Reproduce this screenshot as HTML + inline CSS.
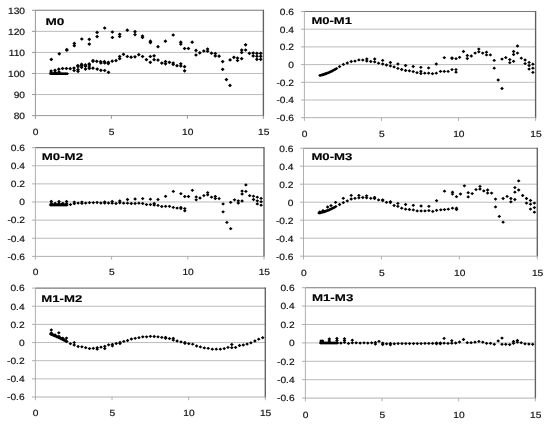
<!DOCTYPE html>
<html><head><meta charset="utf-8"><title>Residual plots</title>
<style>html,body{margin:0;padding:0;background:#fff}svg{display:block}text{text-rendering:geometricPrecision;font-family:"Liberation Sans",sans-serif;fill:#111;stroke:#111;stroke-width:0.18px}.t{font-weight:bold;fill:#000;stroke:#000;stroke-width:0.12px}</style></head><body>
<svg width="550" height="425" viewBox="0 0 550 425">
<rect width="550" height="425" fill="#fff"/>
<g>
<line x1="32.0" y1="10.30" x2="35.4" y2="10.30" stroke="#8c8c8c" stroke-width="0.9"/>
<text transform="translate(25.0 13.95) scale(1.12 1)" font-size="9.1" text-anchor="end">130</text>
<line x1="35.4" y1="31.36" x2="263.4" y2="31.36" stroke="#b4b4b4" stroke-width="0.9"/>
<line x1="32.0" y1="31.36" x2="35.4" y2="31.36" stroke="#8c8c8c" stroke-width="0.9"/>
<text transform="translate(25.0 35.01) scale(1.12 1)" font-size="9.1" text-anchor="end">120</text>
<line x1="35.4" y1="52.42" x2="263.4" y2="52.42" stroke="#b4b4b4" stroke-width="0.9"/>
<line x1="32.0" y1="52.42" x2="35.4" y2="52.42" stroke="#8c8c8c" stroke-width="0.9"/>
<text transform="translate(25.0 56.07) scale(1.12 1)" font-size="9.1" text-anchor="end">110</text>
<line x1="35.4" y1="73.48" x2="263.4" y2="73.48" stroke="#b4b4b4" stroke-width="0.9"/>
<line x1="32.0" y1="73.48" x2="35.4" y2="73.48" stroke="#8c8c8c" stroke-width="0.9"/>
<text transform="translate(25.0 77.13) scale(1.12 1)" font-size="9.1" text-anchor="end">100</text>
<line x1="35.4" y1="94.54" x2="263.4" y2="94.54" stroke="#b4b4b4" stroke-width="0.9"/>
<line x1="32.0" y1="94.54" x2="35.4" y2="94.54" stroke="#8c8c8c" stroke-width="0.9"/>
<text transform="translate(25.0 98.19) scale(1.12 1)" font-size="9.1" text-anchor="end">90</text>
<line x1="32.0" y1="115.60" x2="35.4" y2="115.60" stroke="#8c8c8c" stroke-width="0.9"/>
<text transform="translate(25.0 119.25) scale(1.12 1)" font-size="9.1" text-anchor="end">80</text>
<path d="M35.4 10.30H263.4" fill="none" stroke="#787878" stroke-width="1.1"/>
<path d="M263.4 9.80V116.00" fill="none" stroke="#606060" stroke-width="1.35"/>
<path d="M35.4 10.30V115.60H263.4" fill="none" stroke="#8c8c8c" stroke-width="0.9"/>
<line x1="35.40" y1="115.60" x2="35.40" y2="118.80" stroke="#8c8c8c" stroke-width="0.9"/>
<text transform="translate(35.70 134.85) scale(1.12 1)" font-size="9.1" text-anchor="middle">0</text>
<line x1="111.40" y1="115.60" x2="111.40" y2="118.80" stroke="#8c8c8c" stroke-width="0.9"/>
<text transform="translate(111.70 134.85) scale(1.12 1)" font-size="9.1" text-anchor="middle">5</text>
<line x1="187.40" y1="115.60" x2="187.40" y2="118.80" stroke="#8c8c8c" stroke-width="0.9"/>
<text transform="translate(187.70 134.85) scale(1.12 1)" font-size="9.1" text-anchor="middle">10</text>
<line x1="263.40" y1="115.60" x2="263.40" y2="118.80" stroke="#8c8c8c" stroke-width="0.9"/>
<text transform="translate(263.70 134.85) scale(1.12 1)" font-size="9.1" text-anchor="middle">15</text>
<text class="t" x="45.5" y="25.1" font-size="9.8" textLength="18.9" lengthAdjust="spacingAndGlyphs">M0</text>
<path d="M49.35 59.40L51.30 57.55L53.25 59.40L51.30 61.25ZM57.35 53.80L59.30 51.95L61.25 53.80L59.30 55.65ZM64.85 49.50L66.80 47.65L68.75 49.50L66.80 51.35ZM64.85 50.20L66.80 48.35L68.75 50.20L66.80 52.05ZM72.35 43.40L74.30 41.55L76.25 43.40L74.30 45.25ZM72.35 45.70L74.30 43.85L76.25 45.70L74.30 47.55ZM79.85 39.00L81.80 37.15L83.75 39.00L81.80 40.85ZM87.35 39.30L89.30 37.45L91.25 39.30L89.30 41.15ZM87.35 44.10L89.30 42.25L91.25 44.10L89.30 45.95ZM95.15 32.40L97.10 30.55L99.05 32.40L97.10 34.25ZM95.15 36.60L97.10 34.75L99.05 36.60L97.10 38.45ZM102.75 28.00L104.70 26.15L106.65 28.00L104.70 29.85ZM110.45 32.00L112.40 30.15L114.35 32.00L112.40 33.85ZM110.45 37.50L112.40 35.65L114.35 37.50L112.40 39.35ZM117.75 34.30L119.70 32.45L121.65 34.30L119.70 36.15ZM117.75 36.40L119.70 34.55L121.65 36.40L119.70 38.25ZM125.35 30.20L127.30 28.35L129.25 30.20L127.30 32.05ZM133.05 31.70L135.00 29.85L136.95 31.70L135.00 33.55ZM133.05 34.60L135.00 32.75L136.95 34.60L135.00 36.45ZM140.55 36.10L142.50 34.25L144.45 36.10L142.50 37.95ZM140.55 37.50L142.50 35.65L144.45 37.50L142.50 39.35ZM148.45 41.20L150.40 39.35L152.35 41.20L150.40 43.05ZM148.45 42.60L150.40 40.75L152.35 42.60L150.40 44.45ZM156.05 46.70L158.00 44.85L159.95 46.70L158.00 48.55ZM163.45 41.20L165.40 39.35L167.35 41.20L165.40 43.05ZM171.25 35.00L173.20 33.15L175.15 35.00L173.20 36.85ZM178.85 42.20L180.80 40.35L182.75 42.20L180.80 44.05ZM178.85 44.10L180.80 42.25L182.75 44.10L180.80 45.95ZM182.65 48.50L184.60 46.65L186.55 48.50L184.60 50.35ZM186.45 48.50L188.40 46.65L190.35 48.50L188.40 50.35ZM190.25 42.20L192.20 40.35L194.15 42.20L192.20 44.05ZM194.05 50.40L196.00 48.55L197.95 50.40L196.00 52.25ZM194.05 55.00L196.00 53.15L197.95 55.00L196.00 56.85ZM197.85 52.80L199.80 50.95L201.75 52.80L199.80 54.65ZM201.85 51.00L203.80 49.15L205.75 51.00L203.80 52.85ZM205.65 49.00L207.60 47.15L209.55 49.00L207.60 50.85ZM205.65 51.20L207.60 49.35L209.55 51.20L207.60 53.05ZM209.55 53.20L211.50 51.35L213.45 53.20L211.50 55.05ZM213.35 53.60L215.30 51.75L217.25 53.60L215.30 55.45ZM213.35 55.90L215.30 54.05L217.25 55.90L215.30 57.75ZM217.15 56.20L219.10 54.35L221.05 56.20L219.10 58.05ZM220.75 61.60L222.70 59.75L224.65 61.60L222.70 63.45ZM220.75 69.30L222.70 67.45L224.65 69.30L222.70 71.15ZM224.45 79.60L226.40 77.75L228.35 79.60L226.40 81.45ZM228.05 85.40L230.00 83.55L231.95 85.40L230.00 87.25ZM228.15 59.90L230.10 58.05L232.05 59.90L230.10 61.75ZM231.95 57.30L233.90 55.45L235.85 57.30L233.90 59.15ZM235.55 58.00L237.50 56.15L239.45 58.00L237.50 59.85ZM235.55 60.50L237.50 58.65L239.45 60.50L237.50 62.35ZM239.75 58.70L241.70 56.85L243.65 58.70L241.70 60.55ZM239.75 50.00L241.70 48.15L243.65 50.00L241.70 51.85ZM239.75 52.40L241.70 50.55L243.65 52.40L241.70 54.25ZM243.65 44.80L245.60 42.95L247.55 44.80L245.60 46.65ZM243.65 50.00L245.60 48.15L247.55 50.00L245.60 51.85ZM247.45 53.30L249.40 51.45L251.35 53.30L249.40 55.15ZM251.25 53.10L253.20 51.25L255.15 53.10L253.20 54.95ZM251.25 55.90L253.20 54.05L255.15 55.90L253.20 57.75ZM254.95 53.40L256.90 51.55L258.85 53.40L256.90 55.25ZM254.95 56.30L256.90 54.45L258.85 56.30L256.90 58.15ZM254.95 59.30L256.90 57.45L258.85 59.30L256.90 61.15ZM258.75 53.40L260.70 51.55L262.65 53.40L260.70 55.25ZM258.75 56.30L260.70 54.45L262.65 56.30L260.70 58.15ZM258.75 59.30L260.70 57.45L262.65 59.30L260.70 61.15ZM49.15 71.00L51.10 69.15L53.05 71.00L51.10 72.85ZM53.05 70.30L55.00 68.45L56.95 70.30L55.00 72.15ZM56.85 69.20L58.80 67.35L60.75 69.20L58.80 71.05ZM60.65 68.50L62.60 66.65L64.55 68.50L62.60 70.35ZM64.45 68.50L66.40 66.65L68.35 68.50L66.40 70.35ZM68.25 68.70L70.20 66.85L72.15 68.70L70.20 70.55ZM72.05 68.10L74.00 66.25L75.95 68.10L74.00 69.95ZM75.85 65.50L77.80 63.65L79.75 65.50L77.80 67.35ZM79.65 64.30L81.60 62.45L83.55 64.30L81.60 66.15ZM83.45 64.90L85.40 63.05L87.35 64.90L85.40 66.75ZM87.25 63.90L89.20 62.05L91.15 63.90L89.20 65.75ZM91.05 60.50L93.00 58.65L94.95 60.50L93.00 62.35ZM94.85 61.30L96.80 59.45L98.75 61.30L96.80 63.15ZM98.65 61.70L100.60 59.85L102.55 61.70L100.60 63.55ZM102.45 61.70L104.40 59.85L106.35 61.70L104.40 63.55ZM106.35 62.30L108.30 60.45L110.25 62.30L108.30 64.15ZM106.35 63.60L108.30 61.75L110.25 63.60L108.30 65.45ZM110.25 61.20L112.20 59.35L114.15 61.20L112.20 63.05ZM114.05 60.60L116.00 58.75L117.95 60.60L116.00 62.45ZM117.75 56.50L119.70 54.65L121.65 56.50L119.70 58.35ZM117.75 58.70L119.70 56.85L121.65 58.70L119.70 60.55ZM121.55 54.30L123.50 52.45L125.45 54.30L123.50 56.15ZM125.35 56.50L127.30 54.65L129.25 56.50L127.30 58.35ZM129.15 57.20L131.10 55.35L133.05 57.20L131.10 59.05ZM133.05 56.80L135.00 54.95L136.95 56.80L135.00 58.65ZM136.85 54.70L138.80 52.85L140.75 54.70L138.80 56.55ZM140.65 56.50L142.60 54.65L144.55 56.50L142.60 58.35ZM144.45 59.70L146.40 57.85L148.35 59.70L146.40 61.55ZM148.35 56.50L150.30 54.65L152.25 56.50L150.30 58.35ZM148.35 62.30L150.30 60.45L152.25 62.30L150.30 64.15ZM152.15 55.80L154.10 53.95L156.05 55.80L154.10 57.65ZM152.15 59.70L154.10 57.85L156.05 59.70L154.10 61.55ZM156.05 60.10L158.00 58.25L159.95 60.10L158.00 61.95ZM159.85 63.10L161.80 61.25L163.75 63.10L161.80 64.95ZM163.55 61.60L165.50 59.75L167.45 61.60L165.50 63.45ZM163.55 63.80L165.50 61.95L167.45 63.80L165.50 65.65ZM167.45 62.30L169.40 60.45L171.35 62.30L169.40 64.15ZM171.25 63.10L173.20 61.25L175.15 63.10L173.20 64.95ZM171.25 64.50L173.20 62.65L175.15 64.50L173.20 66.35ZM175.05 65.70L177.00 63.85L178.95 65.70L177.00 67.55ZM178.85 63.80L180.80 61.95L182.75 63.80L180.80 65.65ZM178.85 66.00L180.80 64.15L182.75 66.00L180.80 67.85ZM182.65 66.70L184.60 64.85L186.55 66.70L184.60 68.55ZM182.65 70.80L184.60 68.95L186.55 70.80L184.60 72.65ZM49.25 72.60L51.20 70.75L53.15 72.60L51.20 74.45ZM53.15 72.30L55.10 70.45L57.05 72.30L55.10 74.15ZM57.05 72.00L59.00 70.15L60.95 72.00L59.00 73.85ZM72.15 70.50L74.10 68.65L76.05 70.50L74.10 72.35ZM76.05 69.60L78.00 67.75L79.95 69.60L78.00 71.45ZM76.05 71.30L78.00 69.45L79.95 71.30L78.00 73.15ZM79.65 67.30L81.60 65.45L83.55 67.30L81.60 69.15ZM83.55 69.10L85.50 67.25L87.45 69.10L85.50 70.95ZM87.35 67.00L89.30 65.15L91.25 67.00L89.30 68.85ZM87.35 68.50L89.30 66.65L91.25 68.50L89.30 70.35ZM91.05 68.20L93.00 66.35L94.95 68.20L93.00 70.05ZM95.25 69.10L97.20 67.25L99.15 69.10L97.20 70.95ZM98.95 70.30L100.90 68.45L102.85 70.30L100.90 72.15ZM102.75 70.50L104.70 68.65L106.65 70.50L104.70 72.35ZM106.55 72.30L108.50 70.45L110.45 72.30L108.50 74.15ZM76.05 66.60L78.00 64.75L79.95 66.60L78.00 68.45ZM79.65 65.60L81.60 63.75L83.55 65.60L81.60 67.45ZM83.55 66.20L85.50 64.35L87.45 66.20L85.50 68.05ZM87.35 64.90L89.30 63.05L91.25 64.90L89.30 66.75ZM91.05 61.30L93.00 59.45L94.95 61.30L93.00 63.15ZM98.95 63.00L100.90 61.15L102.85 63.00L100.90 64.85ZM102.75 63.00L104.70 61.15L106.65 63.00L104.70 64.85ZM48.70 73.70L50.40 72.35L52.10 73.70L50.40 75.05ZM49.47 73.70L51.17 72.35L52.87 73.70L51.17 75.05ZM50.25 73.70L51.95 72.35L53.65 73.70L51.95 75.05ZM51.02 73.70L52.72 72.35L54.42 73.70L52.72 75.05ZM51.79 73.70L53.49 72.35L55.19 73.70L53.49 75.05ZM52.56 73.70L54.26 72.35L55.96 73.70L54.26 75.05ZM53.34 73.70L55.04 72.35L56.74 73.70L55.04 75.05ZM54.11 73.70L55.81 72.35L57.51 73.70L55.81 75.05ZM54.88 73.70L56.58 72.35L58.28 73.70L56.58 75.05ZM55.65 73.70L57.35 72.35L59.05 73.70L57.35 75.05ZM56.43 73.70L58.13 72.35L59.83 73.70L58.13 75.05ZM57.20 73.70L58.90 72.35L60.60 73.70L58.90 75.05ZM57.97 73.70L59.67 72.35L61.37 73.70L59.67 75.05ZM58.75 73.70L60.45 72.35L62.15 73.70L60.45 75.05ZM59.52 73.70L61.22 72.35L62.92 73.70L61.22 75.05ZM60.29 73.70L61.99 72.35L63.69 73.70L61.99 75.05ZM61.06 73.70L62.76 72.35L64.46 73.70L62.76 75.05ZM61.84 73.70L63.54 72.35L65.24 73.70L63.54 75.05ZM62.61 73.70L64.31 72.35L66.01 73.70L64.31 75.05ZM63.38 73.70L65.08 72.35L66.78 73.70L65.08 75.05ZM64.15 73.70L65.85 72.35L67.55 73.70L65.85 75.05ZM64.93 73.70L66.63 72.35L68.33 73.70L66.63 75.05ZM65.70 73.70L67.40 72.35L69.10 73.70L67.40 75.05Z" fill="#000"/>
</g>
<g>
<line x1="301.0" y1="11.50" x2="304.4" y2="11.50" stroke="#a6a6a6" stroke-width="0.9"/>
<text transform="translate(294.0 14.80) scale(1.12 1)" font-size="9.1" text-anchor="end">0.6</text>
<line x1="304.4" y1="29.20" x2="535.6" y2="29.20" stroke="#b4b4b4" stroke-width="0.9"/>
<line x1="301.0" y1="29.20" x2="304.4" y2="29.20" stroke="#a6a6a6" stroke-width="0.9"/>
<text transform="translate(294.0 32.50) scale(1.12 1)" font-size="9.1" text-anchor="end">0.4</text>
<line x1="304.4" y1="46.90" x2="535.6" y2="46.90" stroke="#b4b4b4" stroke-width="0.9"/>
<line x1="301.0" y1="46.90" x2="304.4" y2="46.90" stroke="#a6a6a6" stroke-width="0.9"/>
<text transform="translate(294.0 50.20) scale(1.12 1)" font-size="9.1" text-anchor="end">0.2</text>
<line x1="304.4" y1="64.60" x2="535.6" y2="64.60" stroke="#b4b4b4" stroke-width="0.9"/>
<line x1="301.0" y1="64.60" x2="304.4" y2="64.60" stroke="#a6a6a6" stroke-width="0.9"/>
<text transform="translate(294.0 67.90) scale(1.12 1)" font-size="9.1" text-anchor="end">0</text>
<line x1="304.4" y1="82.30" x2="535.6" y2="82.30" stroke="#b4b4b4" stroke-width="0.9"/>
<line x1="301.0" y1="82.30" x2="304.4" y2="82.30" stroke="#a6a6a6" stroke-width="0.9"/>
<text transform="translate(294.0 85.60) scale(1.12 1)" font-size="9.1" text-anchor="end">-0.2</text>
<line x1="304.4" y1="100.00" x2="535.6" y2="100.00" stroke="#b4b4b4" stroke-width="0.9"/>
<line x1="301.0" y1="100.00" x2="304.4" y2="100.00" stroke="#a6a6a6" stroke-width="0.9"/>
<text transform="translate(294.0 103.30) scale(1.12 1)" font-size="9.1" text-anchor="end">-0.4</text>
<line x1="301.0" y1="117.70" x2="304.4" y2="117.70" stroke="#a6a6a6" stroke-width="0.9"/>
<text transform="translate(294.0 121.00) scale(1.12 1)" font-size="9.1" text-anchor="end">-0.6</text>
<path d="M304.4 11.50H535.6" fill="none" stroke="#787878" stroke-width="1.1"/>
<path d="M535.6 11.00V118.10" fill="none" stroke="#606060" stroke-width="1.35"/>
<path d="M304.4 11.50V117.70H535.6" fill="none" stroke="#a6a6a6" stroke-width="0.9"/>
<line x1="304.40" y1="117.70" x2="304.40" y2="120.90" stroke="#a6a6a6" stroke-width="0.9"/>
<text transform="translate(304.70 136.95) scale(1.12 1)" font-size="9.1" text-anchor="middle">0</text>
<line x1="381.47" y1="117.70" x2="381.47" y2="120.90" stroke="#a6a6a6" stroke-width="0.9"/>
<text transform="translate(381.77 136.95) scale(1.12 1)" font-size="9.1" text-anchor="middle">5</text>
<line x1="458.53" y1="117.70" x2="458.53" y2="120.90" stroke="#a6a6a6" stroke-width="0.9"/>
<text transform="translate(458.83 136.95) scale(1.12 1)" font-size="9.1" text-anchor="middle">10</text>
<line x1="535.60" y1="117.70" x2="535.60" y2="120.90" stroke="#a6a6a6" stroke-width="0.9"/>
<text transform="translate(535.90 136.95) scale(1.12 1)" font-size="9.1" text-anchor="middle">15</text>
<text class="t" x="311.4" y="24.4" font-size="9.8" textLength="40.6" lengthAdjust="spacingAndGlyphs">M0-M1</text>
<path d="M337.75 66.60L339.60 64.95L341.45 66.60L339.60 68.25ZM341.55 64.40L343.40 62.75L345.25 64.40L343.40 66.05ZM345.45 63.00L347.30 61.35L349.15 63.00L347.30 64.65ZM349.35 61.50L351.20 59.85L353.05 61.50L351.20 63.15ZM353.15 61.10L355.00 59.45L356.85 61.10L355.00 62.75ZM357.05 59.90L358.90 58.25L360.75 59.90L358.90 61.55ZM360.95 60.10L362.80 58.45L364.65 60.10L362.80 61.75ZM364.95 58.90L366.80 57.25L368.65 58.90L366.80 60.55ZM364.95 61.10L366.80 59.45L368.65 61.10L366.80 62.75ZM368.95 61.50L370.80 59.85L372.65 61.50L370.80 63.15ZM372.85 59.00L374.70 57.35L376.55 59.00L374.70 60.65ZM372.85 61.90L374.70 60.25L376.55 61.90L374.70 63.55ZM376.75 63.20L378.60 61.55L380.45 63.20L378.60 64.85ZM380.85 64.00L382.70 62.35L384.55 64.00L382.70 65.65ZM384.65 65.00L386.50 63.35L388.35 65.00L386.50 66.65ZM388.55 65.90L390.40 64.25L392.25 65.90L390.40 67.55ZM392.25 66.90L394.10 65.25L395.95 66.90L394.10 68.55ZM396.05 68.40L397.90 66.75L399.75 68.40L397.90 70.05ZM399.85 69.50L401.70 67.85L403.55 69.50L401.70 71.15ZM403.75 70.50L405.60 68.85L407.45 70.50L405.60 72.15ZM407.55 70.80L409.40 69.15L411.25 70.80L409.40 72.45ZM411.35 71.60L413.20 69.95L415.05 71.60L413.20 73.25ZM415.15 72.70L417.00 71.05L418.85 72.70L417.00 74.35ZM419.05 73.50L420.90 71.85L422.75 73.50L420.90 75.15ZM422.95 73.20L424.80 71.55L426.65 73.20L424.80 74.85ZM426.75 73.20L428.60 71.55L430.45 73.20L428.60 74.85ZM430.65 73.70L432.50 72.05L434.35 73.70L432.50 75.35ZM434.45 73.20L436.30 71.55L438.15 73.20L436.30 74.85ZM438.65 71.40L440.50 69.75L442.35 71.40L440.50 73.05ZM442.45 71.40L444.30 69.75L446.15 71.40L444.30 73.05ZM446.25 71.40L448.10 69.75L449.95 71.40L448.10 73.05ZM450.15 69.60L452.00 67.95L453.85 69.60L452.00 71.25ZM454.15 69.60L456.00 67.95L457.85 69.60L456.00 71.25ZM454.15 72.20L456.00 70.55L457.85 72.20L456.00 73.85ZM380.85 60.40L382.70 58.75L384.55 60.40L382.70 62.05ZM388.55 62.50L390.40 60.85L392.25 62.50L390.40 64.15ZM396.05 64.00L397.90 62.35L399.75 64.00L397.90 65.65ZM403.75 65.50L405.60 63.85L407.45 65.50L405.60 67.15ZM411.35 66.50L413.20 64.85L415.05 66.50L413.20 68.15ZM419.05 67.30L420.90 65.65L422.75 67.30L420.90 68.95ZM419.05 71.30L420.90 69.65L422.75 71.30L420.90 72.95ZM426.75 67.90L428.60 66.25L430.45 67.90L428.60 69.55ZM434.45 64.00L436.30 62.35L438.15 64.00L436.30 65.65ZM442.45 57.70L444.30 56.05L446.15 57.70L444.30 59.35ZM450.15 57.80L452.00 56.15L453.85 57.80L452.00 59.45ZM450.15 58.60L452.00 56.95L453.85 58.60L452.00 60.25ZM454.15 58.70L456.00 57.05L457.85 58.70L456.00 60.35ZM457.75 57.30L459.60 55.65L461.45 57.30L459.60 58.95ZM461.65 51.50L463.50 49.85L465.35 51.50L463.50 53.15ZM465.45 55.50L467.30 53.85L469.15 55.50L467.30 57.15ZM465.45 58.50L467.30 56.85L469.15 58.50L467.30 60.15ZM469.45 56.00L471.30 54.35L473.15 56.00L471.30 57.65ZM473.25 53.10L475.10 51.45L476.95 53.10L475.10 54.75ZM476.95 49.10L478.80 47.45L480.65 49.10L478.80 50.75ZM476.95 51.80L478.80 50.15L480.65 51.80L478.80 53.45ZM480.85 53.10L482.70 51.45L484.55 53.10L482.70 54.75ZM484.65 52.20L486.50 50.55L488.35 52.20L486.50 53.85ZM484.65 54.90L486.50 53.25L488.35 54.90L486.50 56.55ZM488.55 54.90L490.40 53.25L492.25 54.90L490.40 56.55ZM492.35 60.40L494.20 58.75L496.05 60.40L494.20 62.05ZM492.35 68.20L494.20 66.55L496.05 68.20L494.20 69.85ZM496.35 80.00L498.20 78.35L500.05 80.00L498.20 81.65ZM500.15 88.50L502.00 86.85L503.85 88.50L502.00 90.15ZM500.15 59.10L502.00 57.45L503.85 59.10L502.00 60.75ZM503.95 57.60L505.80 55.95L507.65 57.60L505.80 59.25ZM507.95 59.60L509.80 57.95L511.65 59.60L509.80 61.25ZM507.95 62.70L509.80 61.05L511.65 62.70L509.80 64.35ZM511.75 51.50L513.60 49.85L515.45 51.50L513.60 53.15ZM511.75 54.50L513.60 52.85L515.45 54.50L513.60 56.15ZM511.75 61.30L513.60 59.65L515.45 61.30L513.60 62.95ZM515.65 46.00L517.50 44.35L519.35 46.00L517.50 47.65ZM515.65 53.10L517.50 51.45L519.35 53.10L517.50 54.75ZM519.45 58.20L521.30 56.55L523.15 58.20L521.30 59.85ZM523.25 60.00L525.10 58.35L526.95 60.00L525.10 61.65ZM523.25 63.60L525.10 61.95L526.95 63.60L525.10 65.25ZM527.25 62.40L529.10 60.75L530.95 62.40L529.10 64.05ZM527.25 65.50L529.10 63.85L530.95 65.50L529.10 67.15ZM527.25 69.10L529.10 67.45L530.95 69.10L529.10 70.75ZM531.05 64.20L532.90 62.55L534.75 64.20L532.90 65.85ZM531.05 68.20L532.90 66.55L534.75 68.20L532.90 69.85ZM531.05 72.40L532.90 70.75L534.75 72.40L532.90 74.05ZM318.15 75.40L319.90 73.85L321.65 75.40L319.90 76.95ZM318.91 75.23L320.66 73.68L322.41 75.23L320.66 76.78ZM319.67 75.04L321.42 73.49L323.17 75.04L321.42 76.59ZM320.43 74.84L322.18 73.29L323.93 74.84L322.18 76.39ZM321.19 74.62L322.94 73.07L324.69 74.62L322.94 76.17ZM321.95 74.39L323.70 72.84L325.45 74.39L323.70 75.94ZM322.70 74.15L324.45 72.60L326.20 74.15L324.45 75.70ZM323.46 73.90L325.21 72.35L326.96 73.90L325.21 75.45ZM324.22 73.63L325.97 72.08L327.72 73.63L325.97 75.18ZM324.98 73.35L326.73 71.80L328.48 73.35L326.73 74.90ZM325.74 73.06L327.49 71.51L329.24 73.06L327.49 74.61ZM326.50 72.75L328.25 71.20L330.00 72.75L328.25 74.30ZM327.26 72.43L329.01 70.88L330.76 72.43L329.01 73.98ZM328.02 72.10L329.77 70.55L331.52 72.10L329.77 73.65ZM328.78 71.75L330.53 70.20L332.28 71.75L330.53 73.30ZM329.54 71.39L331.29 69.84L333.04 71.39L331.29 72.94ZM330.30 71.02L332.05 69.47L333.80 71.02L332.05 72.57ZM331.05 70.63L332.80 69.08L334.55 70.63L332.80 72.18ZM331.81 70.23L333.56 68.68L335.31 70.23L333.56 71.78ZM332.57 69.82L334.32 68.27L336.07 69.82L334.32 71.37ZM333.33 69.39L335.08 67.84L336.83 69.39L335.08 70.94ZM334.09 68.95L335.84 67.40L337.59 68.95L335.84 70.50ZM334.85 68.50L336.60 66.95L338.35 68.50L336.60 70.05Z" fill="#000"/>
</g>
<g>
<line x1="32.0" y1="147.60" x2="35.4" y2="147.60" stroke="#a6a6a6" stroke-width="0.9"/>
<text transform="translate(25.0 150.90) scale(1.12 1)" font-size="9.1" text-anchor="end">0.6</text>
<line x1="35.4" y1="165.73" x2="264.0" y2="165.73" stroke="#b4b4b4" stroke-width="0.9"/>
<line x1="32.0" y1="165.73" x2="35.4" y2="165.73" stroke="#a6a6a6" stroke-width="0.9"/>
<text transform="translate(25.0 169.03) scale(1.12 1)" font-size="9.1" text-anchor="end">0.4</text>
<line x1="35.4" y1="183.87" x2="264.0" y2="183.87" stroke="#b4b4b4" stroke-width="0.9"/>
<line x1="32.0" y1="183.87" x2="35.4" y2="183.87" stroke="#a6a6a6" stroke-width="0.9"/>
<text transform="translate(25.0 187.17) scale(1.12 1)" font-size="9.1" text-anchor="end">0.2</text>
<line x1="35.4" y1="202.00" x2="264.0" y2="202.00" stroke="#b4b4b4" stroke-width="0.9"/>
<line x1="32.0" y1="202.00" x2="35.4" y2="202.00" stroke="#a6a6a6" stroke-width="0.9"/>
<text transform="translate(25.0 205.30) scale(1.12 1)" font-size="9.1" text-anchor="end">0</text>
<line x1="35.4" y1="220.13" x2="264.0" y2="220.13" stroke="#b4b4b4" stroke-width="0.9"/>
<line x1="32.0" y1="220.13" x2="35.4" y2="220.13" stroke="#a6a6a6" stroke-width="0.9"/>
<text transform="translate(25.0 223.43) scale(1.12 1)" font-size="9.1" text-anchor="end">-0.2</text>
<line x1="35.4" y1="238.27" x2="264.0" y2="238.27" stroke="#b4b4b4" stroke-width="0.9"/>
<line x1="32.0" y1="238.27" x2="35.4" y2="238.27" stroke="#a6a6a6" stroke-width="0.9"/>
<text transform="translate(25.0 241.57) scale(1.12 1)" font-size="9.1" text-anchor="end">-0.4</text>
<line x1="32.0" y1="256.40" x2="35.4" y2="256.40" stroke="#a6a6a6" stroke-width="0.9"/>
<text transform="translate(25.0 259.70) scale(1.12 1)" font-size="9.1" text-anchor="end">-0.6</text>
<path d="M35.4 147.60H264.0" fill="none" stroke="#787878" stroke-width="1.1"/>
<path d="M264.0 147.10V256.80" fill="none" stroke="#606060" stroke-width="1.35"/>
<path d="M35.4 147.60V256.40H264.0" fill="none" stroke="#a6a6a6" stroke-width="0.9"/>
<line x1="35.40" y1="256.40" x2="35.40" y2="259.60" stroke="#a6a6a6" stroke-width="0.9"/>
<text transform="translate(35.70 275.45) scale(1.12 1)" font-size="9.1" text-anchor="middle">0</text>
<line x1="111.60" y1="256.40" x2="111.60" y2="259.60" stroke="#a6a6a6" stroke-width="0.9"/>
<text transform="translate(111.90 275.45) scale(1.12 1)" font-size="9.1" text-anchor="middle">5</text>
<line x1="187.80" y1="256.40" x2="187.80" y2="259.60" stroke="#a6a6a6" stroke-width="0.9"/>
<text transform="translate(188.10 275.45) scale(1.12 1)" font-size="9.1" text-anchor="middle">10</text>
<line x1="264.00" y1="256.40" x2="264.00" y2="259.60" stroke="#a6a6a6" stroke-width="0.9"/>
<text transform="translate(264.30 275.45) scale(1.12 1)" font-size="9.1" text-anchor="middle">15</text>
<text class="t" x="41.8" y="160.3" font-size="9.8" textLength="41.2" lengthAdjust="spacingAndGlyphs">M0-M2</text>
<path d="M49.45 201.30L51.30 199.65L53.15 201.30L51.30 202.95ZM57.15 201.40L59.00 199.75L60.85 201.40L59.00 203.05ZM64.75 201.40L66.60 199.75L68.45 201.40L66.60 203.05ZM49.45 203.20L51.30 201.55L53.15 203.20L51.30 204.85ZM53.25 203.30L55.10 201.65L56.95 203.30L55.10 204.95ZM57.15 203.30L59.00 201.65L60.85 203.30L59.00 204.95ZM60.95 203.30L62.80 201.65L64.65 203.30L62.80 204.95ZM64.75 203.40L66.60 201.75L68.45 203.40L66.60 205.05ZM68.65 204.60L70.50 202.95L72.35 204.60L70.50 206.25ZM72.45 202.10L74.30 200.45L76.15 202.10L74.30 203.75ZM72.45 203.70L74.30 202.05L76.15 203.70L74.30 205.35ZM76.25 203.10L78.10 201.45L79.95 203.10L78.10 204.75ZM80.05 202.10L81.90 200.45L83.75 202.10L81.90 203.75ZM80.05 203.40L81.90 201.75L83.75 203.40L81.90 205.05ZM83.85 203.10L85.70 201.45L87.55 203.10L85.70 204.75ZM87.65 202.70L89.50 201.05L91.35 202.70L89.50 204.35ZM91.45 202.70L93.30 201.05L95.15 202.70L93.30 204.35ZM95.25 202.50L97.10 200.85L98.95 202.50L97.10 204.15ZM99.05 203.00L100.90 201.35L102.75 203.00L100.90 204.65ZM102.85 202.00L104.70 200.35L106.55 202.00L104.70 203.65ZM102.85 203.10L104.70 201.45L106.55 203.10L104.70 204.75ZM106.65 203.00L108.50 201.35L110.35 203.00L108.50 204.65ZM110.35 201.40L112.20 199.75L114.05 201.40L112.20 203.05ZM117.95 201.00L119.80 199.35L121.65 201.00L119.80 202.65ZM125.65 199.50L127.50 197.85L129.35 199.50L127.50 201.15ZM133.25 199.00L135.10 197.35L136.95 199.00L135.10 200.65ZM140.85 198.60L142.70 196.95L144.55 198.60L142.70 200.25ZM148.55 199.20L150.40 197.55L152.25 199.20L150.40 200.85ZM156.15 199.50L158.00 197.85L159.85 199.50L158.00 201.15ZM163.75 196.30L165.60 194.65L167.45 196.30L165.60 197.95ZM171.45 191.40L173.30 189.75L175.15 191.40L173.30 193.05ZM179.05 193.70L180.90 192.05L182.75 193.70L180.90 195.35ZM182.95 196.50L184.80 194.85L186.65 196.50L184.80 198.15ZM186.65 196.50L188.50 194.85L190.35 196.50L188.50 198.15ZM190.55 190.30L192.40 188.65L194.25 190.30L192.40 191.95ZM194.35 196.90L196.20 195.25L198.05 196.90L196.20 198.55ZM194.35 199.80L196.20 198.15L198.05 199.80L196.20 201.45ZM198.15 198.00L200.00 196.35L201.85 198.00L200.00 199.65ZM202.05 195.60L203.90 193.95L205.75 195.60L203.90 197.25ZM205.85 192.70L207.70 191.05L209.55 192.70L207.70 194.35ZM205.85 194.80L207.70 193.15L209.55 194.80L207.70 196.45ZM110.35 203.20L112.20 201.55L114.05 203.20L112.20 204.85ZM114.15 203.50L116.00 201.85L117.85 203.50L116.00 205.15ZM117.95 202.80L119.80 201.15L121.65 202.80L119.80 204.45ZM121.75 203.20L123.60 201.55L125.45 203.20L123.60 204.85ZM125.65 203.20L127.50 201.55L129.35 203.20L127.50 204.85ZM129.45 203.50L131.30 201.85L133.15 203.50L131.30 205.15ZM133.25 203.50L135.10 201.85L136.95 203.50L135.10 205.15ZM137.05 203.20L138.90 201.55L140.75 203.20L138.90 204.85ZM140.85 203.50L142.70 201.85L144.55 203.50L142.70 205.15ZM144.65 204.60L146.50 202.95L148.35 204.60L146.50 206.25ZM148.55 204.60L150.40 202.95L152.25 204.60L150.40 206.25ZM152.35 203.50L154.20 201.85L156.05 203.50L154.20 205.15ZM152.35 205.00L154.20 203.35L156.05 205.00L154.20 206.65ZM156.15 205.40L158.00 203.75L159.85 205.40L158.00 207.05ZM159.95 206.50L161.80 204.85L163.65 206.50L161.80 208.15ZM163.75 206.30L165.60 204.65L167.45 206.30L165.60 207.95ZM167.65 206.30L169.50 204.65L171.35 206.30L169.50 207.95ZM171.45 207.40L173.30 205.75L175.15 207.40L173.30 209.05ZM175.25 208.10L177.10 206.45L178.95 208.10L177.10 209.75ZM179.05 207.40L180.90 205.75L182.75 207.40L180.90 209.05ZM179.05 208.60L180.90 206.95L182.75 208.60L180.90 210.25ZM182.95 208.60L184.80 206.95L186.65 208.60L184.80 210.25ZM182.95 210.80L184.80 209.15L186.65 210.80L184.80 212.45ZM209.65 197.20L211.50 195.55L213.35 197.20L211.50 198.85ZM213.45 196.50L215.30 194.85L217.15 196.50L215.30 198.15ZM213.45 198.60L215.30 196.95L217.15 198.60L215.30 200.25ZM217.25 198.60L219.10 196.95L220.95 198.60L219.10 200.25ZM221.25 203.90L223.10 202.25L224.95 203.90L223.10 205.55ZM221.25 211.80L223.10 210.15L224.95 211.80L223.10 213.45ZM225.05 222.40L226.90 220.75L228.75 222.40L226.90 224.05ZM228.85 228.70L230.70 227.05L232.55 228.70L230.70 230.35ZM228.85 202.30L230.70 200.65L232.55 202.30L230.70 203.95ZM232.65 199.80L234.50 198.15L236.35 199.80L234.50 201.45ZM236.45 200.80L238.30 199.15L240.15 200.80L238.30 202.45ZM236.45 203.00L238.30 201.35L240.15 203.00L238.30 204.65ZM240.25 201.00L242.10 199.35L243.95 201.00L242.10 202.65ZM240.25 191.10L242.10 189.45L243.95 191.10L242.10 192.75ZM240.25 194.00L242.10 192.35L243.95 194.00L242.10 195.65ZM244.05 184.90L245.90 183.25L247.75 184.90L245.90 186.55ZM244.05 191.40L245.90 189.75L247.75 191.40L245.90 193.05ZM247.85 195.70L249.70 194.05L251.55 195.70L249.70 197.35ZM251.65 196.20L253.50 194.55L255.35 196.20L253.50 197.85ZM251.65 199.50L253.50 197.85L255.35 199.50L253.50 201.15ZM255.45 197.20L257.30 195.55L259.15 197.20L257.30 198.85ZM255.45 200.80L257.30 199.15L259.15 200.80L257.30 202.45ZM255.45 203.90L257.30 202.25L259.15 203.90L257.30 205.55ZM259.25 198.40L261.10 196.75L262.95 198.40L261.10 200.05ZM259.25 201.70L261.10 200.05L262.95 201.70L261.10 203.35ZM259.25 205.20L261.10 203.55L262.95 205.20L261.10 206.85ZM48.70 205.00L50.40 203.60L52.10 205.00L50.40 206.40ZM49.45 205.00L51.15 203.60L52.85 205.00L51.15 206.40ZM50.21 205.00L51.91 203.60L53.61 205.00L51.91 206.40ZM50.96 205.00L52.66 203.60L54.36 205.00L52.66 206.40ZM51.72 205.00L53.42 203.60L55.12 205.00L53.42 206.40ZM52.47 205.00L54.17 203.60L55.87 205.00L54.17 206.40ZM53.23 205.00L54.93 203.60L56.63 205.00L54.93 206.40ZM53.98 205.00L55.68 203.60L57.38 205.00L55.68 206.40ZM54.74 205.00L56.44 203.60L58.14 205.00L56.44 206.40ZM55.49 205.00L57.19 203.60L58.89 205.00L57.19 206.40ZM56.25 205.00L57.95 203.60L59.65 205.00L57.95 206.40ZM57.00 205.00L58.70 203.60L60.40 205.00L58.70 206.40ZM57.75 205.00L59.45 203.60L61.15 205.00L59.45 206.40ZM58.51 205.00L60.21 203.60L61.91 205.00L60.21 206.40ZM59.26 205.00L60.96 203.60L62.66 205.00L60.96 206.40ZM60.02 205.00L61.72 203.60L63.42 205.00L61.72 206.40ZM60.77 205.00L62.47 203.60L64.17 205.00L62.47 206.40ZM61.53 205.00L63.23 203.60L64.93 205.00L63.23 206.40ZM62.28 205.00L63.98 203.60L65.68 205.00L63.98 206.40ZM63.04 205.00L64.74 203.60L66.44 205.00L64.74 206.40ZM63.79 205.00L65.49 203.60L67.19 205.00L65.49 206.40ZM64.55 205.00L66.25 203.60L67.95 205.00L66.25 206.40ZM65.30 205.00L67.00 203.60L68.70 205.00L67.00 206.40Z" fill="#000"/>
</g>
<g>
<line x1="300.1" y1="148.20" x2="303.5" y2="148.20" stroke="#a6a6a6" stroke-width="0.9"/>
<text transform="translate(293.5 151.75) scale(1.12 1)" font-size="9.1" text-anchor="end">0.6</text>
<line x1="303.5" y1="166.20" x2="537.3" y2="166.20" stroke="#b4b4b4" stroke-width="0.9"/>
<line x1="300.1" y1="166.20" x2="303.5" y2="166.20" stroke="#a6a6a6" stroke-width="0.9"/>
<text transform="translate(293.5 169.75) scale(1.12 1)" font-size="9.1" text-anchor="end">0.4</text>
<line x1="303.5" y1="184.20" x2="537.3" y2="184.20" stroke="#b4b4b4" stroke-width="0.9"/>
<line x1="300.1" y1="184.20" x2="303.5" y2="184.20" stroke="#a6a6a6" stroke-width="0.9"/>
<text transform="translate(293.5 187.75) scale(1.12 1)" font-size="9.1" text-anchor="end">0.2</text>
<line x1="303.5" y1="202.20" x2="537.3" y2="202.20" stroke="#b4b4b4" stroke-width="0.9"/>
<line x1="300.1" y1="202.20" x2="303.5" y2="202.20" stroke="#a6a6a6" stroke-width="0.9"/>
<text transform="translate(293.5 205.75) scale(1.12 1)" font-size="9.1" text-anchor="end">0</text>
<line x1="303.5" y1="220.20" x2="537.3" y2="220.20" stroke="#b4b4b4" stroke-width="0.9"/>
<line x1="300.1" y1="220.20" x2="303.5" y2="220.20" stroke="#a6a6a6" stroke-width="0.9"/>
<text transform="translate(293.5 223.75) scale(1.12 1)" font-size="9.1" text-anchor="end">-0.2</text>
<line x1="303.5" y1="238.20" x2="537.3" y2="238.20" stroke="#b4b4b4" stroke-width="0.9"/>
<line x1="300.1" y1="238.20" x2="303.5" y2="238.20" stroke="#a6a6a6" stroke-width="0.9"/>
<text transform="translate(293.5 241.75) scale(1.12 1)" font-size="9.1" text-anchor="end">-0.4</text>
<line x1="300.1" y1="256.20" x2="303.5" y2="256.20" stroke="#a6a6a6" stroke-width="0.9"/>
<text transform="translate(293.5 259.75) scale(1.12 1)" font-size="9.1" text-anchor="end">-0.6</text>
<path d="M303.5 148.20H537.3" fill="none" stroke="#787878" stroke-width="1.1"/>
<path d="M537.3 147.70V256.60" fill="none" stroke="#606060" stroke-width="1.35"/>
<path d="M303.5 148.20V256.20H537.3" fill="none" stroke="#a6a6a6" stroke-width="0.9"/>
<line x1="303.50" y1="256.20" x2="303.50" y2="259.40" stroke="#a6a6a6" stroke-width="0.9"/>
<text transform="translate(303.80 275.65) scale(1.12 1)" font-size="9.1" text-anchor="middle" stroke-width="0.4">0</text>
<line x1="381.43" y1="256.20" x2="381.43" y2="259.40" stroke="#a6a6a6" stroke-width="0.9"/>
<text transform="translate(381.73 275.65) scale(1.12 1)" font-size="9.1" text-anchor="middle" stroke-width="0.4">5</text>
<line x1="459.37" y1="256.20" x2="459.37" y2="259.40" stroke="#a6a6a6" stroke-width="0.9"/>
<text transform="translate(459.67 275.65) scale(1.12 1)" font-size="9.1" text-anchor="middle" stroke-width="0.4">10</text>
<line x1="537.30" y1="256.20" x2="537.30" y2="259.40" stroke="#a6a6a6" stroke-width="0.9"/>
<text transform="translate(537.60 275.65) scale(1.12 1)" font-size="9.1" text-anchor="middle" stroke-width="0.4">15</text>
<text class="t" x="311.4" y="160.2" font-size="9.8" textLength="41.0" lengthAdjust="spacingAndGlyphs">M0-M3</text>
<path d="M321.15 210.60L323.00 208.95L324.85 210.60L323.00 212.25ZM329.15 205.60L331.00 203.95L332.85 205.60L331.00 207.25ZM317.95 212.00L319.80 210.35L321.65 212.00L319.80 213.65ZM325.75 207.00L327.60 205.35L329.45 207.00L327.60 208.65ZM333.75 202.30L335.60 200.65L337.45 202.30L335.60 203.95ZM341.45 198.30L343.30 196.65L345.15 198.30L343.30 199.95ZM349.35 195.40L351.20 193.75L353.05 195.40L351.20 197.05ZM357.05 195.40L358.90 193.75L360.75 195.40L358.90 197.05ZM364.75 195.80L366.60 194.15L368.45 195.80L366.60 197.45ZM372.75 197.30L374.60 195.65L376.45 197.30L374.60 198.95ZM337.75 204.50L339.60 202.85L341.45 204.50L339.60 206.15ZM341.45 202.60L343.30 200.95L345.15 202.60L343.30 204.25ZM345.45 200.90L347.30 199.25L349.15 200.90L347.30 202.55ZM349.35 199.00L351.20 197.35L353.05 199.00L351.20 200.65ZM353.15 198.30L355.00 196.65L356.85 198.30L355.00 199.95ZM357.05 197.80L358.90 196.15L360.75 197.80L358.90 199.45ZM360.95 197.50L362.80 195.85L364.65 197.50L362.80 199.15ZM364.75 197.80L366.60 196.15L368.45 197.80L366.60 199.45ZM368.95 198.30L370.80 196.65L372.65 198.30L370.80 199.95ZM372.75 198.60L374.60 196.95L376.45 198.60L374.60 200.25ZM376.75 199.90L378.60 198.25L380.45 199.90L378.60 201.55ZM380.85 200.70L382.70 199.05L384.55 200.70L382.70 202.35ZM384.65 202.30L386.50 200.65L388.35 202.30L386.50 203.95ZM388.55 202.60L390.40 200.95L392.25 202.60L390.40 204.25ZM392.25 205.50L394.10 203.85L395.95 205.50L394.10 207.15ZM396.05 206.30L397.90 204.65L399.75 206.30L397.90 207.95ZM399.85 208.20L401.70 206.55L403.55 208.20L401.70 209.85ZM403.75 209.20L405.60 207.55L407.45 209.20L405.60 210.85ZM407.55 209.50L409.40 207.85L411.25 209.50L409.40 211.15ZM411.45 209.90L413.30 208.25L415.15 209.90L413.30 211.55ZM415.35 210.90L417.20 209.25L419.05 210.90L417.20 212.55ZM419.25 210.90L421.10 209.25L422.95 210.90L421.10 212.55ZM423.15 210.90L425.00 209.25L426.85 210.90L425.00 212.55ZM427.05 210.60L428.90 208.95L430.75 210.60L428.90 212.25ZM430.95 211.40L432.80 209.75L434.65 211.40L432.80 213.05ZM434.75 210.30L436.60 208.65L438.45 210.30L436.60 211.95ZM438.95 209.80L440.80 208.15L442.65 209.80L440.80 211.45ZM442.65 209.60L444.50 207.95L446.35 209.60L444.50 211.25ZM446.45 209.20L448.30 207.55L450.15 209.20L448.30 210.85ZM450.65 208.20L452.50 206.55L454.35 208.20L452.50 209.85ZM454.65 208.20L456.50 206.55L458.35 208.20L456.50 209.85ZM454.65 209.50L456.50 207.85L458.35 209.50L456.50 211.15ZM380.85 199.80L382.70 198.15L384.55 199.80L382.70 201.45ZM388.55 201.70L390.40 200.05L392.25 201.70L390.40 203.35ZM396.05 203.40L397.90 201.75L399.75 203.40L397.90 205.05ZM403.75 204.50L405.60 202.85L407.45 204.50L405.60 206.15ZM411.45 205.30L413.30 203.65L415.15 205.30L413.30 206.95ZM419.25 206.00L421.10 204.35L422.95 206.00L421.10 207.65ZM427.05 206.30L428.90 204.65L430.75 206.30L428.90 207.95ZM434.75 200.70L436.60 199.05L438.45 200.70L436.60 202.35ZM442.65 191.20L444.50 189.55L446.35 191.20L444.50 192.85ZM450.65 192.20L452.50 190.55L454.35 192.20L452.50 193.85ZM450.65 194.00L452.50 192.35L454.35 194.00L452.50 195.65ZM454.65 196.70L456.50 195.05L458.35 196.70L456.50 198.35ZM458.65 194.00L460.50 192.35L462.35 194.00L460.50 195.65ZM462.55 185.80L464.40 184.15L466.25 185.80L464.40 187.45ZM466.35 192.70L468.20 191.05L470.05 192.70L468.20 194.35ZM466.35 196.90L468.20 195.25L470.05 196.90L468.20 198.55ZM470.35 193.60L472.20 191.95L474.05 193.60L472.20 195.25ZM474.15 189.60L476.00 187.95L477.85 189.60L476.00 191.25ZM478.15 186.40L480.00 184.75L481.85 186.40L480.00 188.05ZM478.15 189.10L480.00 187.45L481.85 189.10L480.00 190.75ZM481.95 190.90L483.80 189.25L485.65 190.90L483.80 192.55ZM485.75 190.00L487.60 188.35L489.45 190.00L487.60 191.65ZM485.75 193.10L487.60 191.45L489.45 193.10L487.60 194.75ZM489.75 193.10L491.60 191.45L493.45 193.10L491.60 194.75ZM493.65 199.10L495.50 197.45L497.35 199.10L495.50 200.75ZM493.65 206.90L495.50 205.25L497.35 206.90L495.50 208.55ZM497.45 216.40L499.30 214.75L501.15 216.40L499.30 218.05ZM501.25 222.20L503.10 220.55L504.95 222.20L503.10 223.85ZM501.25 198.50L503.10 196.85L504.95 198.50L503.10 200.15ZM505.25 196.40L507.10 194.75L508.95 196.40L507.10 198.05ZM509.05 198.50L510.90 196.85L512.75 198.50L510.90 200.15ZM509.05 201.80L510.90 200.15L512.75 201.80L510.90 203.45ZM513.05 187.60L514.90 185.95L516.75 187.60L514.90 189.25ZM513.05 192.20L514.90 190.55L516.75 192.20L514.90 193.85ZM513.05 199.50L514.90 197.85L516.75 199.50L514.90 201.15ZM516.85 180.90L518.70 179.25L520.55 180.90L518.70 182.55ZM516.85 190.00L518.70 188.35L520.55 190.00L518.70 191.65ZM520.85 195.50L522.70 193.85L524.55 195.50L522.70 197.15ZM524.65 198.50L526.50 196.85L528.35 198.50L526.50 200.15ZM524.65 203.10L526.50 201.45L528.35 203.10L526.50 204.75ZM528.65 200.40L530.50 198.75L532.35 200.40L530.50 202.05ZM528.65 204.20L530.50 202.55L532.35 204.20L530.50 205.85ZM528.65 209.10L530.50 207.45L532.35 209.10L530.50 210.75ZM532.55 203.10L534.40 201.45L536.25 203.10L534.40 204.75ZM532.55 207.60L534.40 205.95L536.25 207.60L534.40 209.25ZM532.55 212.20L534.40 210.55L536.25 212.20L534.40 213.85ZM317.15 213.00L318.90 211.45L320.65 213.00L318.90 214.55ZM317.92 212.84L319.67 211.29L321.42 212.84L319.67 214.39ZM318.70 212.67L320.45 211.12L322.20 212.67L320.45 214.22ZM319.47 212.49L321.22 210.94L322.97 212.49L321.22 214.04ZM320.24 212.29L321.99 210.74L323.74 212.29L321.99 213.84ZM321.01 212.08L322.76 210.53L324.51 212.08L322.76 213.63ZM321.79 211.86L323.54 210.31L325.29 211.86L323.54 213.41ZM322.56 211.63L324.31 210.08L326.06 211.63L324.31 213.18ZM323.33 211.38L325.08 209.83L326.83 211.38L325.08 212.93ZM324.10 211.11L325.85 209.56L327.60 211.11L325.85 212.66ZM324.88 210.84L326.63 209.29L328.38 210.84L326.63 212.39ZM325.65 210.55L327.40 209.00L329.15 210.55L327.40 212.10ZM326.42 210.25L328.17 208.70L329.92 210.25L328.17 211.80ZM327.20 209.93L328.95 208.38L330.70 209.93L328.95 211.48ZM327.97 209.60L329.72 208.05L331.47 209.60L329.72 211.15ZM328.74 209.26L330.49 207.71L332.24 209.26L330.49 210.81ZM329.51 208.91L331.26 207.36L333.01 208.91L331.26 210.46ZM330.29 208.54L332.04 206.99L333.79 208.54L332.04 210.09ZM331.06 208.16L332.81 206.61L334.56 208.16L332.81 209.71ZM331.83 207.76L333.58 206.21L335.33 207.76L333.58 209.31ZM332.60 207.36L334.35 205.81L336.10 207.36L334.35 208.91ZM333.38 206.93L335.13 205.38L336.88 206.93L335.13 208.48ZM334.15 206.50L335.90 204.95L337.65 206.50L335.90 208.05Z" fill="#000"/>
</g>
<g>
<line x1="32.0" y1="288.10" x2="35.4" y2="288.10" stroke="#a6a6a6" stroke-width="0.9"/>
<text transform="translate(24.6 291.40) scale(1.12 1)" font-size="9.1" text-anchor="end">0.6</text>
<line x1="35.4" y1="306.25" x2="265.3" y2="306.25" stroke="#b4b4b4" stroke-width="0.9"/>
<line x1="32.0" y1="306.25" x2="35.4" y2="306.25" stroke="#a6a6a6" stroke-width="0.9"/>
<text transform="translate(24.6 309.55) scale(1.12 1)" font-size="9.1" text-anchor="end">0.4</text>
<line x1="35.4" y1="324.40" x2="265.3" y2="324.40" stroke="#b4b4b4" stroke-width="0.9"/>
<line x1="32.0" y1="324.40" x2="35.4" y2="324.40" stroke="#a6a6a6" stroke-width="0.9"/>
<text transform="translate(24.6 327.70) scale(1.12 1)" font-size="9.1" text-anchor="end">0.2</text>
<line x1="35.4" y1="342.55" x2="265.3" y2="342.55" stroke="#b4b4b4" stroke-width="0.9"/>
<line x1="32.0" y1="342.55" x2="35.4" y2="342.55" stroke="#a6a6a6" stroke-width="0.9"/>
<text transform="translate(24.6 345.85) scale(1.12 1)" font-size="9.1" text-anchor="end">0</text>
<line x1="35.4" y1="360.70" x2="265.3" y2="360.70" stroke="#b4b4b4" stroke-width="0.9"/>
<line x1="32.0" y1="360.70" x2="35.4" y2="360.70" stroke="#a6a6a6" stroke-width="0.9"/>
<text transform="translate(24.6 364.00) scale(1.12 1)" font-size="9.1" text-anchor="end">-0.2</text>
<line x1="35.4" y1="378.85" x2="265.3" y2="378.85" stroke="#b4b4b4" stroke-width="0.9"/>
<line x1="32.0" y1="378.85" x2="35.4" y2="378.85" stroke="#a6a6a6" stroke-width="0.9"/>
<text transform="translate(24.6 382.15) scale(1.12 1)" font-size="9.1" text-anchor="end">-0.4</text>
<line x1="32.0" y1="397.00" x2="35.4" y2="397.00" stroke="#a6a6a6" stroke-width="0.9"/>
<text transform="translate(24.6 400.30) scale(1.12 1)" font-size="9.1" text-anchor="end">-0.6</text>
<path d="M35.4 288.10H265.3" fill="none" stroke="#787878" stroke-width="1.1"/>
<path d="M265.3 287.60V397.40" fill="none" stroke="#606060" stroke-width="1.35"/>
<path d="M35.4 288.10V397.00H265.3" fill="none" stroke="#a6a6a6" stroke-width="0.9"/>
<line x1="35.40" y1="397.00" x2="35.40" y2="400.20" stroke="#a6a6a6" stroke-width="0.9"/>
<text transform="translate(35.70 416.35) scale(1.12 1)" font-size="9.1" text-anchor="middle">0</text>
<line x1="112.03" y1="397.00" x2="112.03" y2="400.20" stroke="#a6a6a6" stroke-width="0.9"/>
<text transform="translate(112.33 416.35) scale(1.12 1)" font-size="9.1" text-anchor="middle">5</text>
<line x1="188.67" y1="397.00" x2="188.67" y2="400.20" stroke="#a6a6a6" stroke-width="0.9"/>
<text transform="translate(188.97 416.35) scale(1.12 1)" font-size="9.1" text-anchor="middle">10</text>
<line x1="265.30" y1="397.00" x2="265.30" y2="400.20" stroke="#a6a6a6" stroke-width="0.9"/>
<text transform="translate(265.60 416.35) scale(1.12 1)" font-size="9.1" text-anchor="middle">15</text>
<text class="t" x="41.3" y="301.5" font-size="9.8" textLength="41.0" lengthAdjust="spacingAndGlyphs">M1-M2</text>
<path d="M49.45 332.90L51.30 331.25L53.15 332.90L51.30 334.55ZM53.25 334.90L55.10 333.25L56.95 334.90L55.10 336.55ZM57.15 336.30L59.00 334.65L60.85 336.30L59.00 337.95ZM60.95 338.20L62.80 336.55L64.65 338.20L62.80 339.85ZM49.45 329.90L51.30 328.25L53.15 329.90L51.30 331.55ZM56.95 332.80L58.80 331.15L60.65 332.80L58.80 334.45ZM64.65 338.10L66.50 336.45L68.35 338.10L66.50 339.75ZM68.55 343.70L70.40 342.05L72.25 343.70L70.40 345.35ZM72.35 342.60L74.20 340.95L76.05 342.60L74.20 344.25ZM72.35 345.00L74.20 343.35L76.05 345.00L74.20 346.65ZM76.25 346.50L78.10 344.85L79.95 346.50L78.10 348.15ZM80.05 346.80L81.90 345.15L83.75 346.80L81.90 348.45ZM83.85 347.70L85.70 346.05L87.55 347.70L85.70 349.35ZM87.65 348.60L89.50 346.95L91.35 348.60L89.50 350.25ZM91.45 348.30L93.30 346.65L95.15 348.30L93.30 349.95ZM95.35 347.70L97.20 346.05L99.05 347.70L97.20 349.35ZM95.35 349.20L97.20 347.55L99.05 349.20L97.20 350.85ZM99.15 347.20L101.00 345.55L102.85 347.20L101.00 348.85ZM102.95 346.30L104.80 344.65L106.65 346.30L104.80 347.95ZM102.95 348.60L104.80 346.95L106.65 348.60L104.80 350.25ZM106.75 344.80L108.60 343.15L110.45 344.80L108.60 346.45ZM110.55 344.30L112.40 342.65L114.25 344.30L112.40 345.95ZM110.55 345.90L112.40 344.25L114.25 345.90L112.40 347.55ZM114.35 343.50L116.20 341.85L118.05 343.50L116.20 345.15ZM118.15 342.30L120.00 340.65L121.85 342.30L120.00 343.95ZM118.15 343.50L120.00 341.85L121.85 343.50L120.00 345.15ZM121.95 341.40L123.80 339.75L125.65 341.40L123.80 343.05ZM125.75 340.50L127.60 338.85L129.45 340.50L127.60 342.15ZM129.55 339.00L131.40 337.35L133.25 339.00L131.40 340.65ZM133.35 338.30L135.20 336.65L137.05 338.30L135.20 339.95ZM137.15 337.70L139.00 336.05L140.85 337.70L139.00 339.35ZM140.95 336.80L142.80 335.15L144.65 336.80L142.80 338.45ZM144.75 336.80L146.60 335.15L148.45 336.80L146.60 338.45ZM148.55 336.30L150.40 334.65L152.25 336.30L150.40 337.95ZM152.35 336.50L154.20 334.85L156.05 336.50L154.20 338.15ZM156.15 336.80L158.00 335.15L159.85 336.80L158.00 338.45ZM159.95 337.40L161.80 335.75L163.65 337.40L161.80 339.05ZM163.75 337.30L165.60 335.65L167.45 337.30L165.60 338.95ZM163.75 338.30L165.60 336.65L167.45 338.30L165.60 339.95ZM167.65 338.60L169.50 336.95L171.35 338.60L169.50 340.25ZM171.45 338.30L173.30 336.65L175.15 338.30L173.30 339.95ZM171.45 340.10L173.30 338.45L175.15 340.10L173.30 341.75ZM175.25 341.00L177.10 339.35L178.95 341.00L177.10 342.65ZM179.15 341.90L181.00 340.25L182.85 341.90L181.00 343.55ZM183.05 342.40L184.90 340.75L186.75 342.40L184.90 344.05ZM183.05 343.40L184.90 341.75L186.75 343.40L184.90 345.05ZM186.95 343.70L188.80 342.05L190.65 343.70L188.80 345.35ZM190.85 344.20L192.70 342.55L194.55 344.20L192.70 345.85ZM194.75 346.00L196.60 344.35L198.45 346.00L196.60 347.65ZM198.55 346.90L200.40 345.25L202.25 346.90L200.40 348.55ZM202.45 347.90L204.30 346.25L206.15 347.90L204.30 349.55ZM206.35 348.30L208.20 346.65L210.05 348.30L208.20 349.95ZM210.45 349.20L212.30 347.55L214.15 349.20L212.30 350.85ZM214.45 349.20L216.30 347.55L218.15 349.20L216.30 350.85ZM218.45 349.20L220.30 347.55L222.15 349.20L220.30 350.85ZM222.35 348.60L224.20 346.95L226.05 348.60L224.20 350.25ZM226.15 347.40L228.00 345.75L229.85 347.40L228.00 349.05ZM229.95 344.50L231.80 342.85L233.65 344.50L231.80 346.15ZM229.95 347.70L231.80 346.05L233.65 347.70L231.80 349.35ZM233.75 347.40L235.60 345.75L237.45 347.40L235.60 349.05ZM237.65 345.50L239.50 343.85L241.35 345.50L239.50 347.15ZM241.45 345.00L243.30 343.35L245.15 345.00L243.30 346.65ZM245.25 344.10L247.10 342.45L248.95 344.10L247.10 345.75ZM249.05 342.80L250.90 341.15L252.75 342.80L250.90 344.45ZM253.05 341.00L254.90 339.35L256.75 341.00L254.90 342.65ZM256.85 339.20L258.70 337.55L260.55 339.20L258.70 340.85ZM260.85 337.70L262.70 336.05L264.55 337.70L262.70 339.35ZM48.80 334.00L50.70 332.25L52.60 334.00L50.70 335.75ZM49.53 334.28L51.43 332.53L53.33 334.28L51.43 336.03ZM50.26 334.57L52.16 332.82L54.06 334.57L52.16 336.32ZM51.00 334.87L52.90 333.12L54.80 334.87L52.90 336.62ZM51.73 335.17L53.63 333.42L55.53 335.17L53.63 336.92ZM52.46 335.47L54.36 333.72L56.26 335.47L54.36 337.22ZM53.19 335.78L55.09 334.03L56.99 335.78L55.09 337.53ZM53.92 336.09L55.82 334.34L57.72 336.09L55.82 337.84ZM54.65 336.41L56.55 334.66L58.45 336.41L56.55 338.16ZM55.39 336.74L57.29 334.99L59.19 336.74L57.29 338.49ZM56.12 337.07L58.02 335.32L59.92 337.07L58.02 338.82ZM56.85 337.40L58.75 335.65L60.65 337.40L58.75 339.15ZM57.58 337.74L59.48 335.99L61.38 337.74L59.48 339.49ZM58.31 338.08L60.21 336.33L62.11 338.08L60.21 339.83ZM59.05 338.43L60.95 336.68L62.85 338.43L60.95 340.18ZM59.78 338.79L61.68 337.04L63.58 338.79L61.68 340.54ZM60.51 339.14L62.41 337.39L64.31 339.14L62.41 340.89ZM61.24 339.51L63.14 337.76L65.04 339.51L63.14 341.26ZM61.97 339.88L63.87 338.13L65.77 339.88L63.87 341.63ZM62.70 340.25L64.60 338.50L66.50 340.25L64.60 342.00ZM63.44 340.63L65.34 338.88L67.24 340.63L65.34 342.38ZM64.17 341.01L66.07 339.26L67.97 341.01L66.07 342.76ZM64.90 341.40L66.80 339.65L68.70 341.40L66.80 343.15Z" fill="#000"/>
</g>
<g>
<line x1="302.0" y1="287.70" x2="305.4" y2="287.70" stroke="#a6a6a6" stroke-width="0.9"/>
<text transform="translate(294.6 291.00) scale(1.12 1)" font-size="9.1" text-anchor="end">0.6</text>
<line x1="305.4" y1="306.10" x2="535.4" y2="306.10" stroke="#b4b4b4" stroke-width="0.9"/>
<line x1="302.0" y1="306.10" x2="305.4" y2="306.10" stroke="#a6a6a6" stroke-width="0.9"/>
<text transform="translate(294.6 309.40) scale(1.12 1)" font-size="9.1" text-anchor="end">0.4</text>
<line x1="305.4" y1="324.50" x2="535.4" y2="324.50" stroke="#b4b4b4" stroke-width="0.9"/>
<line x1="302.0" y1="324.50" x2="305.4" y2="324.50" stroke="#a6a6a6" stroke-width="0.9"/>
<text transform="translate(294.6 327.80) scale(1.12 1)" font-size="9.1" text-anchor="end">0.2</text>
<line x1="305.4" y1="342.90" x2="535.4" y2="342.90" stroke="#b4b4b4" stroke-width="0.9"/>
<line x1="302.0" y1="342.90" x2="305.4" y2="342.90" stroke="#a6a6a6" stroke-width="0.9"/>
<text transform="translate(294.6 346.20) scale(1.12 1)" font-size="9.1" text-anchor="end">0</text>
<line x1="305.4" y1="361.30" x2="535.4" y2="361.30" stroke="#b4b4b4" stroke-width="0.9"/>
<line x1="302.0" y1="361.30" x2="305.4" y2="361.30" stroke="#a6a6a6" stroke-width="0.9"/>
<text transform="translate(294.6 364.60) scale(1.12 1)" font-size="9.1" text-anchor="end">-0.2</text>
<line x1="305.4" y1="379.70" x2="535.4" y2="379.70" stroke="#b4b4b4" stroke-width="0.9"/>
<line x1="302.0" y1="379.70" x2="305.4" y2="379.70" stroke="#a6a6a6" stroke-width="0.9"/>
<text transform="translate(294.6 383.00) scale(1.12 1)" font-size="9.1" text-anchor="end">-0.4</text>
<line x1="302.0" y1="398.10" x2="305.4" y2="398.10" stroke="#a6a6a6" stroke-width="0.9"/>
<text transform="translate(294.6 401.40) scale(1.12 1)" font-size="9.1" text-anchor="end">-0.6</text>
<path d="M305.4 287.70H535.4" fill="none" stroke="#787878" stroke-width="1.1"/>
<path d="M535.4 287.20V398.50" fill="none" stroke="#606060" stroke-width="1.35"/>
<path d="M305.4 287.70V398.10H535.4" fill="none" stroke="#a6a6a6" stroke-width="0.9"/>
<line x1="305.40" y1="398.10" x2="305.40" y2="401.30" stroke="#a6a6a6" stroke-width="0.9"/>
<text transform="translate(305.70 417.75) scale(1.12 1)" font-size="9.1" text-anchor="middle">0</text>
<line x1="382.07" y1="398.10" x2="382.07" y2="401.30" stroke="#a6a6a6" stroke-width="0.9"/>
<text transform="translate(382.37 417.75) scale(1.12 1)" font-size="9.1" text-anchor="middle">5</text>
<line x1="458.73" y1="398.10" x2="458.73" y2="401.30" stroke="#a6a6a6" stroke-width="0.9"/>
<text transform="translate(459.03 417.75) scale(1.12 1)" font-size="9.1" text-anchor="middle">10</text>
<line x1="535.40" y1="398.10" x2="535.40" y2="401.30" stroke="#a6a6a6" stroke-width="0.9"/>
<text transform="translate(535.70 417.75) scale(1.12 1)" font-size="9.1" text-anchor="middle">15</text>
<text class="t" x="311.9" y="300.6" font-size="9.8" textLength="41.4" lengthAdjust="spacingAndGlyphs">M1-M3</text>
<path d="M319.15 341.00L321.00 339.35L322.85 341.00L321.00 342.65ZM320.75 341.00L322.60 339.35L324.45 341.00L322.60 342.65ZM327.45 339.00L329.30 337.35L331.15 339.00L329.30 340.65ZM335.05 338.40L336.90 336.75L338.75 338.40L336.90 340.05ZM342.65 338.70L344.50 337.05L346.35 338.70L344.50 340.35ZM350.45 340.20L352.30 338.55L354.15 340.20L352.30 341.85ZM327.45 340.90L329.30 339.25L331.15 340.90L329.30 342.55ZM335.15 340.50L337.00 338.85L338.85 340.50L337.00 342.15ZM342.65 340.60L344.50 338.95L346.35 340.60L344.50 342.25ZM339.05 343.10L340.90 341.45L342.75 343.10L340.90 344.75ZM342.65 342.40L344.50 340.75L346.35 342.40L344.50 344.05ZM346.65 343.40L348.50 341.75L350.35 343.40L348.50 345.05ZM350.45 342.80L352.30 341.15L354.15 342.80L352.30 344.45ZM354.35 342.80L356.20 341.15L358.05 342.80L356.20 344.45ZM358.25 343.10L360.10 341.45L361.95 343.10L360.10 344.75ZM362.15 342.80L364.00 341.15L365.85 342.80L364.00 344.45ZM365.95 343.10L367.80 341.45L369.65 343.10L367.80 344.75ZM369.85 342.80L371.70 341.15L373.55 342.80L371.70 344.45ZM373.55 342.40L375.40 340.75L377.25 342.40L375.40 344.05ZM373.55 344.10L375.40 342.45L377.25 344.10L375.40 345.75ZM377.15 341.30L379.00 339.65L380.85 341.30L379.00 342.95ZM380.85 343.10L382.70 341.45L384.55 343.10L382.70 344.75ZM380.85 344.50L382.70 342.85L384.55 344.50L382.70 346.15ZM384.75 343.80L386.60 342.15L388.45 343.80L386.60 345.45ZM388.55 343.40L390.40 341.75L392.25 343.40L390.40 345.05ZM388.55 344.80L390.40 343.15L392.25 344.80L390.40 346.45ZM392.45 343.80L394.30 342.15L396.15 343.80L394.30 345.45ZM396.25 343.60L398.10 341.95L399.95 343.60L398.10 345.25ZM400.15 343.60L402.00 341.95L403.85 343.60L402.00 345.25ZM403.95 343.60L405.80 341.95L407.65 343.60L405.80 345.25ZM407.75 343.60L409.60 341.95L411.45 343.60L409.60 345.25ZM411.65 343.60L413.50 341.95L415.35 343.60L413.50 345.25ZM415.45 343.60L417.30 341.95L419.15 343.60L417.30 345.25ZM419.25 343.60L421.10 341.95L422.95 343.60L421.10 345.25ZM423.15 343.40L425.00 341.75L426.85 343.40L425.00 345.05ZM426.95 343.40L428.80 341.75L430.65 343.40L428.80 345.05ZM430.75 343.40L432.60 341.75L434.45 343.40L432.60 345.05ZM434.65 343.00L436.50 341.35L438.35 343.00L436.50 344.65ZM434.65 343.80L436.50 342.15L438.35 343.80L436.50 345.45ZM438.45 343.00L440.30 341.35L442.15 343.00L440.30 344.65ZM438.45 343.80L440.30 342.15L442.15 343.80L440.30 345.45ZM442.25 338.40L444.10 336.75L445.95 338.40L444.10 340.05ZM442.25 343.20L444.10 341.55L445.95 343.20L444.10 344.85ZM446.15 343.40L448.00 341.75L449.85 343.40L448.00 345.05ZM449.95 340.70L451.80 339.05L453.65 340.70L451.80 342.35ZM449.95 343.20L451.80 341.55L453.65 343.20L451.80 344.85ZM453.85 343.00L455.70 341.35L457.55 343.00L455.70 344.65ZM457.65 342.00L459.50 340.35L461.35 342.00L459.50 343.65ZM461.65 339.50L463.50 337.85L465.35 339.50L463.50 341.15ZM465.45 342.70L467.30 341.05L469.15 342.70L467.30 344.35ZM469.25 342.70L471.10 341.05L472.95 342.70L471.10 344.35ZM473.15 342.20L475.00 340.55L476.85 342.20L475.00 343.85ZM477.05 341.40L478.90 339.75L480.75 341.40L478.90 343.05ZM480.95 342.20L482.80 340.55L484.65 342.20L482.80 343.85ZM484.75 343.30L486.60 341.65L488.45 343.30L486.60 344.95ZM488.65 343.30L490.50 341.65L492.35 343.30L490.50 344.95ZM492.45 344.30L494.30 342.65L496.15 344.30L494.30 345.95ZM496.35 340.90L498.20 339.25L500.05 340.90L498.20 342.55ZM500.15 338.10L502.00 336.45L503.85 338.10L502.00 339.75ZM500.15 344.30L502.00 342.65L503.85 344.30L502.00 345.95ZM503.95 344.30L505.80 342.65L507.65 344.30L505.80 345.95ZM507.85 344.60L509.70 342.95L511.55 344.60L509.70 346.25ZM511.65 341.40L513.50 339.75L515.35 341.40L513.50 343.05ZM511.65 343.30L513.50 341.65L515.35 343.30L513.50 344.95ZM515.55 340.50L517.40 338.85L519.25 340.50L517.40 342.15ZM515.55 342.20L517.40 340.55L519.25 342.20L517.40 343.85ZM519.35 342.70L521.20 341.05L523.05 342.70L521.20 344.35ZM523.15 343.80L525.00 342.15L526.85 343.80L525.00 345.45ZM527.05 344.10L528.90 342.45L530.75 344.10L528.90 345.75ZM530.85 344.30L532.70 342.65L534.55 344.30L532.70 345.95ZM318.75 343.00L320.50 341.45L322.25 343.00L320.50 344.55ZM319.53 343.00L321.28 341.45L323.03 343.00L321.28 344.55ZM320.30 343.00L322.05 341.45L323.80 343.00L322.05 344.55ZM321.08 343.00L322.83 341.45L324.58 343.00L322.83 344.55ZM321.86 343.00L323.61 341.45L325.36 343.00L323.61 344.55ZM322.64 343.00L324.39 341.45L326.14 343.00L324.39 344.55ZM323.41 343.00L325.16 341.45L326.91 343.00L325.16 344.55ZM324.19 343.00L325.94 341.45L327.69 343.00L325.94 344.55ZM324.97 343.00L326.72 341.45L328.47 343.00L326.72 344.55ZM325.75 343.00L327.50 341.45L329.25 343.00L327.50 344.55ZM326.52 343.00L328.27 341.45L330.02 343.00L328.27 344.55ZM327.30 343.00L329.05 341.45L330.80 343.00L329.05 344.55ZM328.08 343.00L329.83 341.45L331.58 343.00L329.83 344.55ZM328.85 343.00L330.60 341.45L332.35 343.00L330.60 344.55ZM329.63 343.00L331.38 341.45L333.13 343.00L331.38 344.55ZM330.41 343.00L332.16 341.45L333.91 343.00L332.16 344.55ZM331.19 343.00L332.94 341.45L334.69 343.00L332.94 344.55ZM331.96 343.00L333.71 341.45L335.46 343.00L333.71 344.55ZM332.74 343.00L334.49 341.45L336.24 343.00L334.49 344.55ZM333.52 343.00L335.27 341.45L337.02 343.00L335.27 344.55ZM334.30 343.00L336.05 341.45L337.80 343.00L336.05 344.55ZM335.07 343.00L336.82 341.45L338.57 343.00L336.82 344.55ZM335.85 343.00L337.60 341.45L339.35 343.00L337.60 344.55Z" fill="#000"/>
</g>
</svg>
</body></html>
